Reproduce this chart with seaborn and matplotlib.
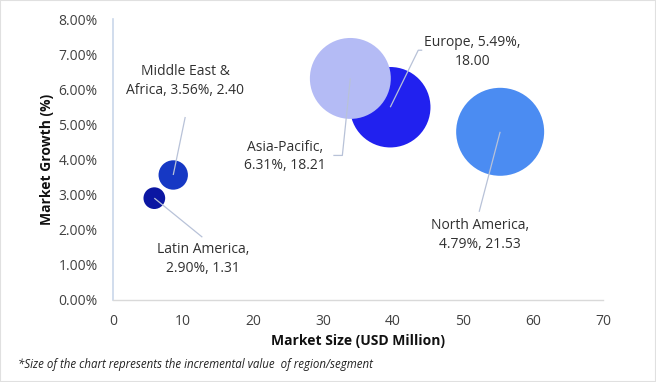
import matplotlib
matplotlib.use('Agg')
import matplotlib.pyplot as plt
import seaborn as sns
import pandas as pd
from matplotlib.ticker import FuncFormatter
from matplotlib.patches import Rectangle

# data
regions = ['Latin America', 'Middle East & Africa', 'Europe', 'Asia-Pacific', 'North America']
market_size = [5.9, 8.6, 39.6, 33.9, 55.3]
growth = [2.90, 3.56, 5.49, 6.31, 4.79]
increment = [1.31, 2.40, 18.00, 18.21, 21.53]
labels = ['Latin America,\n2.90%, 1.31',
          'Middle East &\nAfrica, 3.56%, 2.40',
          'Europe, 5.49%,\n18.00',
          'Asia-Pacific,\n6.31%, 18.21',
          'North America,\n4.79%, 21.53']
colors = ['#0b16a2', '#1638c4', '#2121ef', '#b4bbf5', '#4b8cf2']

df = pd.DataFrame({'Region': regions, 'Size': market_size,
                   'Growth': growth, 'Increment': increment})

sns.set_style('white')
plt.rcParams['font.family'] = ['Open Sans', 'DejaVu Sans']

fig = plt.figure(figsize=(6.56, 3.82), dpi=100)
ax = fig.add_axes([0.1723, 0.2147, 0.7470, 0.7353])

sns.scatterplot(data=df, x='Size', y='Growth', hue='Region', size='Increment',
                sizes=(0, 4014), size_norm=(0, 21.53),
                palette=dict(zip(regions, colors)), edgecolor='none',
                alpha=1, legend=False, ax=ax, zorder=3)

ax.set_xlim(0, 70)
ax.set_ylim(0, 8)
ax.set_xticks(range(0, 71, 10))
ax.set_yticks(range(0, 9))
ax.yaxis.set_major_formatter(FuncFormatter(lambda v, p: f'{v:.2f}%'))
ax.tick_params(axis='both', length=0, labelsize=10, colors='#404040')
ax.tick_params(axis='x', pad=10)
ax.tick_params(axis='y', pad=11)

# leader lines and labels (offsets in pixels from bubble centre)
line_pts = [[(48, -39)], [(12, 58)], [(28, 57), (32, 57)],
            [(-8, -77), (-17, -77)], [(-21, -80)]]
text_off = [(49, -61), (12, 94), (82, 55), (-65, -78), (-20, -103)]
line_col = '#b8c2d8'
inv = ax.transData.inverted()
for i in range(len(regions)):
    x0, y0 = market_size[i], growth[i]
    disp = ax.transData.transform((x0, y0))
    pts = [(0, 0)] + line_pts[i]
    data_pts = [inv.transform((disp[0] + px, disp[1] + py)) for px, py in pts]
    ax.plot([d[0] for d in data_pts], [d[1] for d in data_pts],
            color=line_col, lw=0.9, zorder=4, solid_capstyle='butt')
    ax.annotate(labels[i], xy=(x0, y0), xytext=text_off[i],
                textcoords='offset pixels', ha='center', va='center',
                fontsize=10, color='#303030', linespacing=1.35, zorder=5)

ax.set_xlabel('Market Size (USD Million)', fontsize=10, fontweight='bold',
              color='#111111', labelpad=4)
ax.set_ylabel('Market Growth (%)', fontsize=10, fontweight='bold',
              color='#111111', labelpad=3)

for side in ['top', 'right']:
    ax.spines[side].set_visible(False)
ax.spines['left'].set_color('#c9d7ea')
ax.spines['left'].set_linewidth(1.2)
ax.spines['bottom'].set_color('#d9d9d9')
ax.spines['bottom'].set_linewidth(1.0)
ax.set_facecolor('none')

fig.text(0.027, 0.047, '*Size of the chart represents the incremental value  of region/segment',
         fontsize=8.3, style='italic', color='#222222', va='center')

fig.patches.append(Rectangle((0, 0), 1, 1, transform=fig.transFigure,
                             fill=False, edgecolor='#e0e0e0', lw=1.5))

fig.savefig('out.png', dpi=100)
